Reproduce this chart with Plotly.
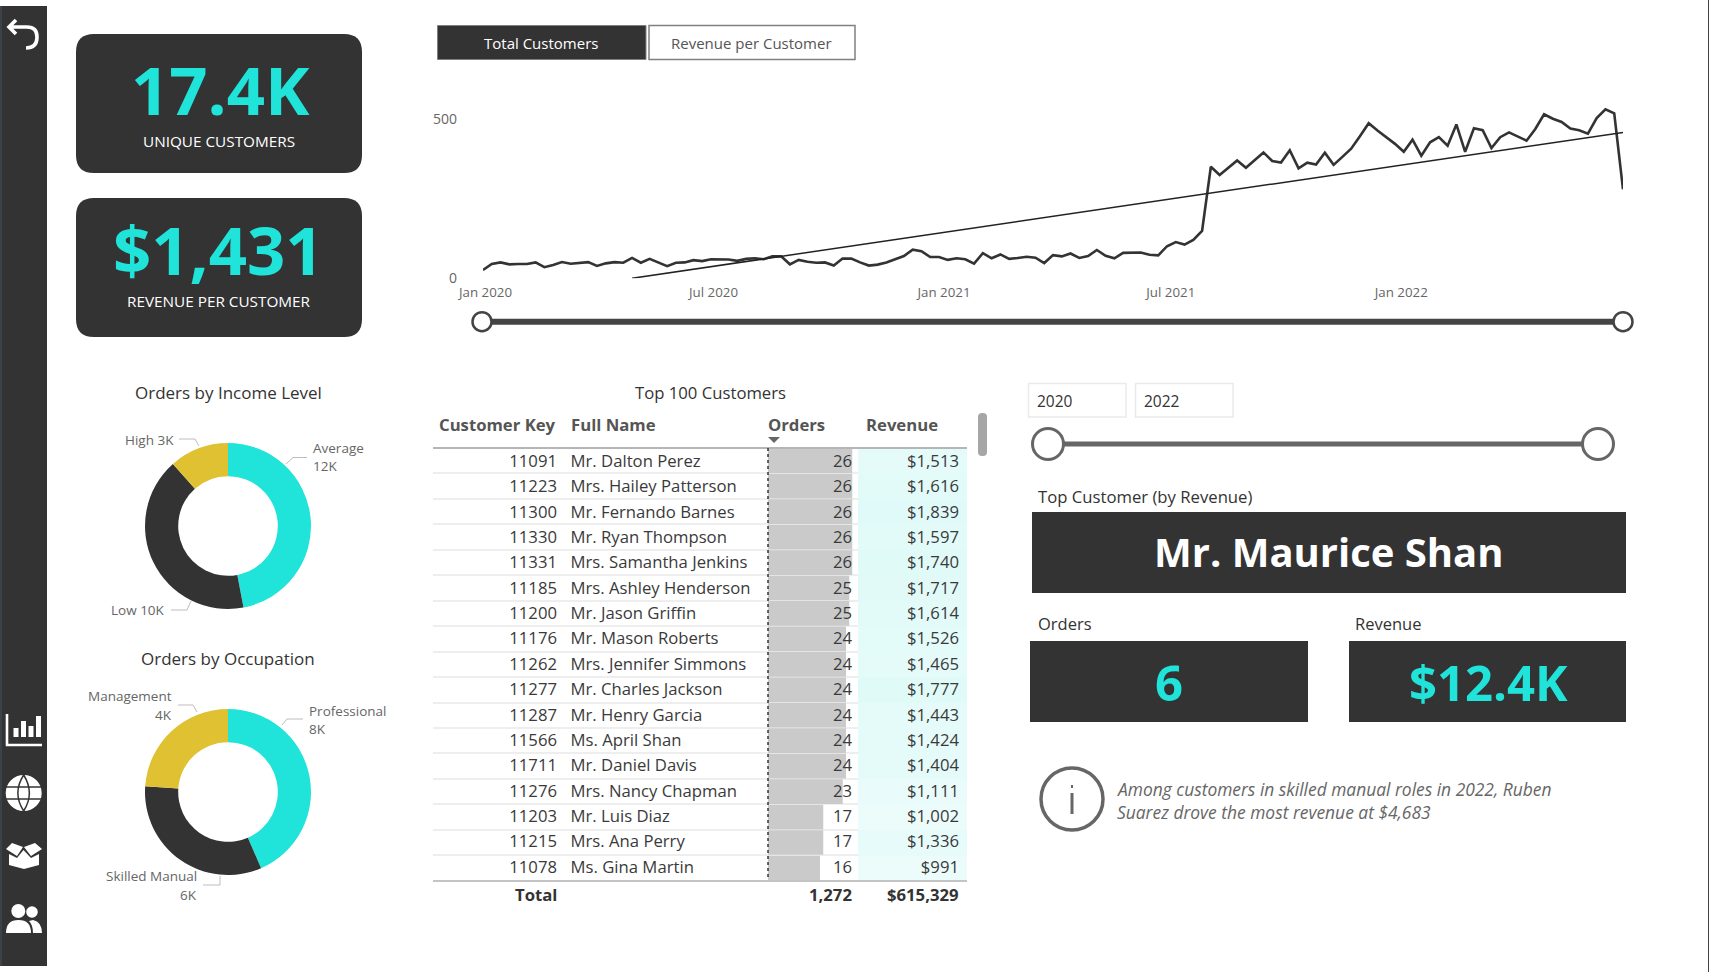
import pandas as pd
import plotly.graph_objects as go

W, H = 1709, 972
FONT = "Open Sans"
DARK = "#333333"
TEAL = "#20E3D9"
YELLOW = "#E0C132"
GREY = "#666666"

# ---------- data ----------
weekly_customers = [
    26, 45, 50, 44, 45, 45, 50, 35, 42, 51, 46, 48, 51, 39, 47, 51, 49, 64, 49, 61, 49, 38, 49,
    50, 57, 54, 60, 60, 59, 55, 61, 63, 60, 69, 69, 44, 58, 52, 49, 50, 40, 62, 62, 50, 40,
    43, 50, 60, 70, 90, 85, 67, 67, 58, 63, 60, 46, 79, 63, 75, 61, 64, 68, 65, 48, 73, 69, 78,
    64, 70, 89, 71, 63, 80, 81, 81, 74, 72, 101, 114, 106, 121, 149, 351, 325, 347, 371,
    348, 372, 396, 369, 364, 403, 346, 364, 358, 395, 357, 382, 408, 447, 488, 465, 444, 423,
    398, 436, 386, 428, 444, 417, 484, 398, 472, 466, 410, 444, 459, 447, 433, 470, 516, 502,
    492, 471, 466, 455, 504, 532, 519, 280,
]
trend_dates = ["2020-04-27", "2022-06-27"]
trend_values = [0, 459]
x_ticks = ["2020-01-01", "2020-07-01", "2021-01-01", "2021-07-01", "2022-01-01"]
x_tick_labels = ["Jan 2020", "Jul 2020", "Jan 2021", "Jul 2021", "Jan 2022"]
y_ticks = [0, 500]

income_labels = ["Average", "Low", "High"]
income_values = [11.8, 10.4, 2.9]
occupation_labels = ["Professional", "Skilled Manual", "Management"]
occupation_values = [8.0, 6.0, 4.4]
donut_colors = [TEAL, DARK, YELLOW]

customer_keys = [11091, 11223, 11300, 11330, 11331, 11185, 11200, 11176, 11262, 11277, 11287,
                 11566, 11711, 11276, 11203, 11215, 11078]
full_names = ["Mr. Dalton Perez", "Mrs. Hailey Patterson", "Mr. Fernando Barnes", "Mr. Ryan Thompson",
              "Mrs. Samantha Jenkins", "Mrs. Ashley Henderson", "Mr. Jason Griffin", "Mr. Mason Roberts",
              "Mrs. Jennifer Simmons", "Mr. Charles Jackson", "Mr. Henry Garcia", "Ms. April Shan",
              "Mr. Daniel Davis", "Mrs. Nancy Chapman", "Mr. Luis Diaz", "Mrs. Ana Perry", "Ms. Gina Martin"]
orders = [26, 26, 26, 26, 26, 25, 25, 24, 24, 24, 24, 24, 24, 23, 17, 17, 16]
revenue = [1513, 1616, 1839, 1597, 1740, 1717, 1614, 1526, 1465, 1777, 1443, 1424, 1404, 1111, 1002, 1336, 991]
rows = list(range(len(customer_keys)))


def xd(a, b):
    return [a / W, b / W]


def yd(a, b):
    return [1 - b / H, 1 - a / H]


fig = go.Figure()

# ---------- line chart ----------
dates = pd.date_range("2019-12-30", periods=len(weekly_customers), freq="7D")
fig.add_trace(go.Scatter(x=dates, y=weekly_customers, mode="lines", line=dict(color=DARK, width=2.6),
                         xaxis="x", yaxis="y", showlegend=False, hoverinfo="skip"))
fig.add_trace(go.Scatter(x=trend_dates, y=trend_values, mode="lines", line=dict(color="#222222", width=1.5),
                         xaxis="x", yaxis="y", showlegend=False, hoverinfo="skip"))

# ---------- donuts ----------
for vals, labs, dom in [(income_values, income_labels, (xd(145, 311), yd(443, 609))),
                        (occupation_values, occupation_labels, (xd(145, 311), yd(709, 875)))]:
    fig.add_trace(go.Pie(values=vals, labels=labs, hole=0.6, sort=False, direction="clockwise", rotation=0,
                         marker=dict(colors=donut_colors, line=dict(width=0)), textinfo="none",
                         domain=dict(x=dom[0], y=dom[1]), showlegend=False, hoverinfo="skip"))

# ---------- table: revenue background, order bars, text ----------
fig.add_trace(go.Heatmap(z=[[r] for r in revenue], x=[858, 967], y=[i - 0.5 for i in rows] + [rows[-1] + 0.5],
                         colorscale=[[0, "#EBFCFB"], [1, "#DFFAF8"]], showscale=False, hoverinfo="skip",
                         xaxis="x2", yaxis="y2"))
fig.add_trace(go.Bar(x=orders, y=rows, orientation="h", marker=dict(color="#CACACA", line=dict(width=0)),
                     width=0.97, xaxis="x3", yaxis="y3", showlegend=False, hoverinfo="skip"))
TXT = dict(size=16.7, color="#3A3A3A", family=FONT)
for col_x, vals, pos in [(557, [str(k) for k in customer_keys], "middle left"),
                         (570.5, full_names, "middle right"),
                         (852, [str(o) for o in orders], "middle left"),
                         (959, [f"${r:,}" for r in revenue], "middle left")]:
    fig.add_trace(go.Scatter(x=[col_x] * len(rows), y=rows, text=vals, mode="text", textposition=pos,
                             textfont=TXT, xaxis="x4", yaxis="y4", showlegend=False, hoverinfo="skip"))

# ---------- static furniture, all in pixel space on axis x9/y9 ----------
shapes, notes = [], []


def px(**k):
    k.setdefault("xref", "x9")
    k.setdefault("yref", "y9")
    return k


def rect(x0, y0, x1, y1, fill, line=None, lw=0, layer="below"):
    shapes.append(px(type="rect", x0=x0, y0=y0, x1=x1, y1=y1, fillcolor=fill, layer=layer,
                     line=dict(color=line or fill, width=lw)))


def rrect(x0, y0, x1, y1, r, fill):
    d = (f"M{x0+r},{y0} L{x1-r},{y0} Q{x1},{y0} {x1},{y0+r} L{x1},{y1-r} Q{x1},{y1} {x1-r},{y1} "
         f"L{x0+r},{y1} Q{x0},{y1} {x0},{y1-r} L{x0},{y0+r} Q{x0},{y0} {x0+r},{y0} Z")
    shapes.append(px(type="path", path=d, fillcolor=fill, line=dict(width=0), layer="below"))


def path(d, fill=None, color=None, lw=0, layer="above"):
    s = px(type="path", path=d, layer=layer, line=dict(color=color or "rgba(0,0,0,0)", width=lw))
    if fill:
        s["fillcolor"] = fill
    shapes.append(s)


def line(x0, y0, x1, y1, color, lw, dash=None, layer="above"):
    shapes.append(px(type="line", x0=x0, y0=y0, x1=x1, y1=y1, layer=layer,
                     line=dict(color=color, width=lw, dash=dash or "solid")))


def circle(cx, cy, r, fill, color=None, lw=0):
    shapes.append(px(type="circle", x0=cx - r, y0=cy - r, x1=cx + r, y1=cy + r, fillcolor=fill, layer="above",
                     line=dict(color=color or fill, width=lw)))


def note(x, y, text, size, color=DARK, anchor="center"):
    notes.append(dict(xref="x9", yref="y9", x=x, y=y - 1.5, text=text, showarrow=False, xanchor=anchor,
                      yanchor="middle", font=dict(family=FONT, size=size, color=color),
                      align="left" if anchor == "left" else anchor, borderpad=0, borderwidth=0))


# sidebar and the right edge line of the page
rect(2, 6, 47, 966, DARK)
rect(0, 6, 2, 966, "#3C4249")
rect(1708, 0, 1709, 972, "#444444")
path("M16,20 L9,27 L16,34 M9,27 L27,27 Q37,27 37,37 Q37,48 26,48", color="white", lw=3.6)
path("M7,714 L7,745 L42,745", color="white", lw=2.6)
for bx, by in [(16, 728), (23.5, 721), (31, 726), (38.5, 716)]:
    rect(bx - 2.5, by, bx + 2.5, 737, "white", layer="above")
circle(23.7, 793, 18, "white")
line(6, 787, 41, 787, DARK, 1.5)
line(6, 799, 41, 799, DARK, 1.5)
path("M23.7,775 Q12,793 23.7,811 Q35,793 23.7,775 Z", color=DARK, lw=1.5)
path("M6,849 L12,843 L23,847 L17,856 Z M42,849 L35,843 L24,847 L31,856 Z", fill="white")
path("M9,854 L17,858 L23.5,850 L31,858 L39,854 L39,865 L24,869 L9,865 Z", fill="white")
circle(32, 912, 5.8, "white")
path("M33,920 Q42,922 42,933 L33,933 Q33,925 29,921 Z", fill="white")
circle(18.3, 911, 7, "white")
path("M6,933 Q6,920 18.5,920 Q31,920 31,933 Z", fill="white")

# KPI cards
rrect(76, 34, 362, 173, 18, DARK)
rrect(76, 198, 362, 337, 18, DARK)
note(220.5, 90, "<b>17.4K</b>", 67, TEAL)
note(218.5, 142, "UNIQUE CUSTOMERS", 15.3, "white")
note(218.5, 250, "<b>$1,431</b>", 67, TEAL)
note(219, 302, "REVENUE PER CUSTOMER", 15.3, "white")

# buttons
rect(437.5, 25.5, 646, 59.5, DARK, "#808080", 1)
rect(649, 25.5, 855, 59.5, "white", "#808080", 1.5)
note(541, 44.5, "Total Customers", 15, "white")
note(751, 44.5, "Revenue per Customer", 15, "#555555")

# date slider under the line chart
line(482, 321.7, 1623, 321.7, "#444444", 6)
circle(482, 321.7, 9.5, "white", "#444444", 2.5)
circle(1623, 321.7, 9.5, "white", "#444444", 2.5)

# donut captions and leaders
note(228, 394, "Orders by Income Level", 17, "#333333")
note(228, 660, "Orders by Occupation", 17, "#333333")
LAB = "#666666"
note(313, 449.5, income_labels[0], 13.5, LAB, "left")
note(313, 467.5, f"{income_values[0]:.0f}K", 13.5, LAB, "left")
note(174, 441, f"{income_labels[2]} {income_values[2]:.0f}K", 13.5, LAB, "right")
note(165, 611.5, f"{income_labels[1]} {income_values[1]:.0f}K", 13.5, LAB, "right")
note(309, 712, occupation_labels[0], 13.5, LAB, "left")
note(309, 730, f"{occupation_values[0]:.0f}K", 13.5, LAB, "left")
note(172, 697, occupation_labels[2], 13.5, LAB, "right")
note(172, 716, f"{occupation_values[2]:.0f}K", 13.5, LAB, "right")
note(197, 877, occupation_labels[1], 13.5, LAB, "right")
note(197, 896, f"{occupation_values[1]:.0f}K", 13.5, LAB, "right")
for d in ["M179,439 L195,439 L199,446", "M307,457.5 L293,457.5 L286,464", "M171,610 L187,610 L191,601",
          "M178,705 L193,705 L197,712", "M303,719 L287,719 L282,725", "M203,885 L220,885 L220,876"]:
    path(d, color="#BDBDBD", lw=1)

# table furniture
note(710, 394, "Top 100 Customers", 16.7, "#333333")
HDR = "#555555"
note(556, 426, "<b>Customer Key</b>", 16.7, HDR, "right")
note(571, 426, "<b>Full Name</b>", 16.7, HDR, "left")
note(768, 426, "<b>Orders</b>", 16.7, HDR, "left")
note(866, 426, "<b>Revenue</b>", 16.7, HDR, "left")
path("M768,437 L780,437 L774,443 Z", fill="#666666")
line(433, 448, 967, 448, "#B5B5B5", 2)
line(433, 881, 967, 881, "#C4C4C4", 2)
line(768, 448, 768, 880, "#333333", 1.5, "dot")
note(557, 896, "<b>Total</b>", 16.7, "#333333", "right")
note(852, 896, f"<b>{1272:,}</b>", 16.7, "#333333", "right")
note(959, 896, f"<b>${615329:,}</b>", 16.7, "#333333", "right")
rrect(978, 413, 987, 456, 4, "#A6A6A6")

# right panel
rect(1028.5, 383.5, 1126, 417, "white", "#EAEAEA", 1.5)
rect(1135.5, 383.5, 1233, 417, "white", "#EAEAEA", 1.5)
note(1037, 402.5, "2020", 15.5, "#333333", "left")
note(1144, 402.5, "2022", 15.5, "#333333", "left")
line(1048, 444, 1598, 444, "#666666", 5)
circle(1048, 444, 15.5, "white", "#666666", 3)
circle(1598, 444, 15.5, "white", "#666666", 3)
note(1038, 498, "Top Customer (by Revenue)", 16.7, "#333333", "left")
rect(1032, 512, 1626, 593, DARK)
note(1329, 553, "<b>Mr. Maurice Shan</b>", 40, "white")
note(1037.5, 625, "Orders", 16.5, "#333333", "left")
note(1354.5, 625, "Revenue", 16.5, "#333333", "left")
rect(1030, 641, 1308, 722, DARK)
rect(1349, 641, 1626, 722, DARK)
note(1169, 683, "<b>6</b>", 49, TEAL)
note(1488, 683, "<b>$12.4K</b>", 49, TEAL)
circle(1072, 799, 31, "rgba(0,0,0,0)", "#666666", 3.5)
line(1072, 793, 1072, 814, "#666666", 3)
rect(1071, 785, 1073, 788, "#666666", layer="above")
note(1117, 790, "<i>Among customers in skilled manual roles in 2022, Ruben</i>", 17.4, "#666666", "left")
note(1117, 813, "<i>Suarez drove the most revenue at $4,683</i>", 17.4, "#666666", "left")

hidden = dict(visible=False, fixedrange=True, automargin=False)
fig.update_layout(
    template="none",
    width=W, height=H, autosize=False, margin=dict(l=0, r=0, t=0, b=0, pad=0),
    paper_bgcolor="white", plot_bgcolor="rgba(0,0,0,0)", font=dict(family=FONT), showlegend=False,
    shapes=shapes, annotations=notes,
    xaxis=dict(domain=xd(483, 1623), range=["2019-12-30", "2022-06-27"], type="date", anchor="y", automargin=False,
               tickvals=x_ticks, ticktext=x_tick_labels, showgrid=False, zeroline=False, showline=False,
               ticks="", tickfont=dict(size=13.3, color=GREY, family=FONT), ticklabelstandoff=4),
    yaxis=dict(domain=yd(100, 278.3), range=[0, 561], anchor="x", tickvals=y_ticks, showgrid=False, automargin=False,
               zeroline=False, showline=False, ticks="", tickfont=dict(size=14, color=GREY, family=FONT),
               ticklabelstandoff=25),
    xaxis2=dict(domain=xd(433, 967), range=[433, 967], anchor="y2", **hidden),
    yaxis2=dict(domain=yd(448, 880.7), range=[16.5, -0.5], anchor="x2", fixedrange=True, showticklabels=False,
                automargin=False, ticks="", tickmode="linear", tick0=-0.5, dtick=1, showgrid=True,
                gridcolor="#EEEEEE", gridwidth=1.5, zeroline=False, showline=False),
    xaxis3=dict(domain=xd(768, 852.5), range=[0, 26], anchor="y3", **hidden),
    yaxis3=dict(domain=yd(448, 880.7), range=[16.5, -0.5], anchor="x3", **hidden),
    xaxis4=dict(domain=xd(433, 967), range=[433, 967], anchor="y4", **hidden),
    yaxis4=dict(domain=yd(450, 881.2), range=[16.5, -0.5], anchor="x4", **hidden),
    xaxis9=dict(domain=[0, 1], range=[0, W], anchor="y9", **hidden),
    yaxis9=dict(domain=[0, 1], range=[H, 0], anchor="x9", **hidden),
)

fig.write_html("out.html", config=dict(displayModeBar=False),
               post_script="document.body.style.margin='0';")
